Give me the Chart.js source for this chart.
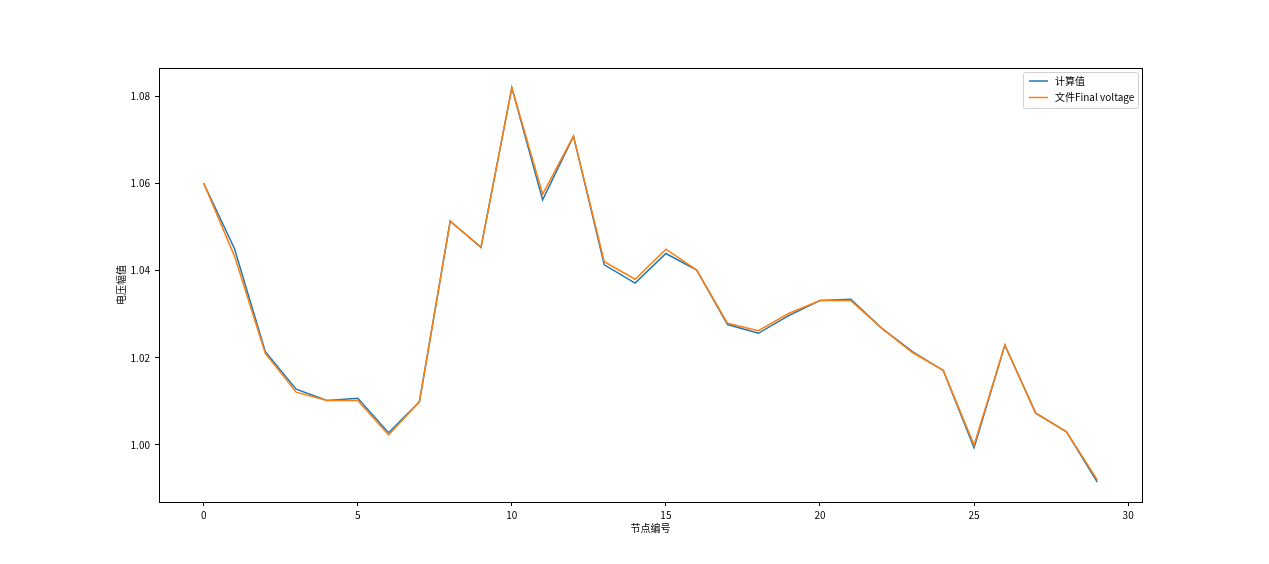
<!DOCTYPE html>
<html>
<head>
<meta charset="utf-8">
<script src="https://cdn.jsdelivr.net/npm/chart.js@4"></script>
<style>
    html, body { margin: 0; padding: 0; background: #fff; }
    canvas { display: block; }
</style>
</head>
<body>
<canvas id="voltage-chart" width="1269" height="564"></canvas>
<script>
// node numbers and voltage magnitudes
const nodes = [0, 1, 2, 3, 4, 5, 6, 7, 8, 9, 10, 11, 12, 13, 14, 15, 16, 17, 18, 19, 20, 21, 22, 23, 24, 25, 26, 27, 28, 29];
const computed = [1.060, 1.045, 1.0214, 1.0128, 1.0102, 1.0107, 1.0028, 1.0099, 1.0513, 1.0453, 1.0819, 1.0562, 1.0708, 1.0413, 1.0371, 1.0439, 1.0401, 1.0276, 1.0256, 1.0297, 1.0331, 1.0334, 1.0268, 1.0214, 1.0171, 0.9994, 1.0229, 1.0073, 1.0030, 0.9915];
const fileVoltage = [1.060, 1.0433, 1.021, 1.0121, 1.0102, 1.0102, 1.0023, 1.0099, 1.0513, 1.0453, 1.0819, 1.0575, 1.0708, 1.042, 1.038, 1.0449, 1.0401, 1.0279, 1.0262, 1.0302, 1.0331, 1.0331, 1.0268, 1.0212, 1.0171, 1.000, 1.0229, 1.0073, 1.0030, 0.992];
const seriesLabels = ['计算值', '文件Final voltage'];
const xTicks = [0, 5, 10, 15, 20, 25, 30];
const yTicks = [1.00, 1.02, 1.04, 1.06, 1.08];

const FONT = '"Noto Sans CJK SC", "Noto Sans", sans-serif';

/**
 * Frame round the plot and the boxed legend in the top right corner
 */
const framePlugin = {
    id: 'frame',
    afterDraw(chart) {
        const ctx = chart.ctx;
        const a = chart.chartArea;
        ctx.save();
        ctx.strokeStyle = '#000';
        ctx.lineWidth = 1;
        ctx.strokeRect(Math.round(a.left) + 0.5, Math.round(a.top) + 0.5,
            Math.round(a.right - a.left), Math.round(a.bottom - a.top));

        // legend
        const bx = a.right - 119, by = a.top + 4, bw = 115, bh = 36;
        ctx.fillStyle = 'rgba(255,255,255,0.8)';
        ctx.strokeStyle = '#d0d0d0';
        ctx.beginPath();
        ctx.roundRect(bx + 0.5, by + 0.5, bw, bh, 2);
        ctx.fill();
        ctx.stroke();
        ctx.font = '10px ' + FONT;
        ctx.textBaseline = 'middle';
        chart.data.datasets.forEach((ds, i) => {
            const ly = by + 9 + i * 16.5;
            ctx.strokeStyle = ds.borderColor;
            ctx.lineWidth = 1.5;
            ctx.beginPath();
            ctx.moveTo(bx + 6, ly);
            ctx.lineTo(bx + 25, ly);
            ctx.stroke();
            ctx.fillStyle = '#000';
            ctx.fillText(ds.label, bx + 32, ly);
        });
        ctx.restore();
    }
};

new Chart(document.getElementById('voltage-chart'), {
    type: 'line',
    data: {
        datasets: [
            {
                label: seriesLabels[0],
                data: nodes.map((n, i) => ({x: n, y: computed[i]})),
                borderColor: '#1f77b4',
                borderWidth: 1.5,
                pointRadius: 0,
                tension: 0,
                order: 1
            },
            {
                label: seriesLabels[1],
                data: nodes.map((n, i) => ({x: n, y: fileVoltage[i]})),
                borderColor: '#ff7f0e',
                borderWidth: 1.5,
                pointRadius: 0,
                tension: 0,
                order: 0
            }
        ]
    },
    options: {
        responsive: false,
        animation: false,
        layout: {
            padding: {left: 100, right: 127, top: 68, bottom: 20}
        },
        scales: {
            x: {
                type: 'linear',
                min: -1.45,
                max: 30.45,
                afterBuildTicks: (s) => { s.ticks = xTicks.map(v => ({value: v})); },
                afterFit: (s) => { s.height = 42; },
                grid: {drawOnChartArea: false, tickLength: 4, tickColor: '#000'},
                border: {color: '#000'},
                ticks: {color: '#000', padding: 3, maxRotation: 0, font: {family: FONT, size: 10}},
                title: {display: true, text: '节点编号', color: '#000', padding: {bottom: 10}, font: {family: FONT, size: 10}}
            },
            y: {
                min: 0.98693,
                max: 1.08642,
                afterBuildTicks: (s) => { s.ticks = yTicks.map(v => ({value: v})); },
                afterFit: (s) => { s.width = 59; },
                grid: {drawOnChartArea: false, tickLength: 4, tickColor: '#000'},
                border: {color: '#000'},
                ticks: {color: '#000', padding: 5, font: {family: FONT, size: 10}, callback: (v) => v.toFixed(2)},
                title: {display: true, text: '电压幅值', color: '#000', padding: {top: 15}, font: {family: FONT, size: 10}}
            }
        },
        plugins: {
            legend: {display: false},
            tooltip: {enabled: false}
        }
    },
    plugins: [framePlugin]
});
</script>
</body>
</html>
